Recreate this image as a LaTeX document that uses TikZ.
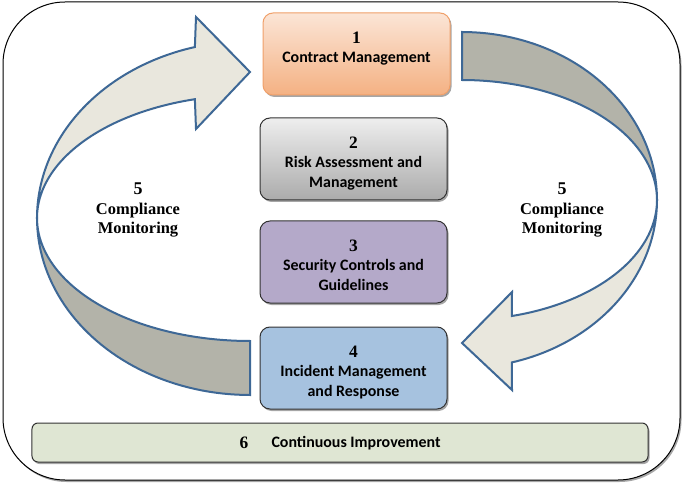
\documentclass[tikz,border=0pt]{standalone}
\usepackage{fontspec}
\setmainfont{Carlito}
\newfontfamily\numfont{Liberation Serif}
\usetikzlibrary{shadows}
\definecolor{ribline}{HTML}{3E6896}
\definecolor{riblight}{HTML}{E9E7DD}
\definecolor{ribdark}{HTML}{B3B3A9}
\definecolor{orTop}{HTML}{FBE5D6}
\definecolor{orBot}{HTML}{F4B183}
\definecolor{orLine}{HTML}{F0A06A}
\definecolor{grTop}{HTML}{EEEEEE}
\definecolor{grBot}{HTML}{ABABAB}
\definecolor{purp}{HTML}{B4A9C9}
\definecolor{blu}{HTML}{A6C2DF}
\definecolor{grn}{HTML}{DFE6D3}
\newcommand{\boxtext}[2]{\raisebox{#1}[\height][\depth]{\begin{tabular}{@{}c@{}}#2\end{tabular}}}
\newcommand{\bnum}[1]{{\numfont\fontsize{17.5}{19.5}\selectfont #1}}
\begin{document}
\begin{tikzpicture}[x=1bp,y=-1bp,
  shad/.style={drop shadow={shadow xshift=1.5bp,shadow yshift=-2bp,opacity=0.35,fill=black}},
  stepbox/.style={draw=black!80,line width=1bp,rounded corners=10bp,minimum width=187bp,minimum height=82bp,
    shad,font=\bfseries\fontsize{16}{19.5}\selectfont},
  ribbon/.style={draw=ribline,line width=2bp,line join=miter},
  lbl/.style={align=center,font=\numfont\bfseries\fontsize{16.5}{20}\selectfont}]
\useasboundingbox (0,0) rectangle (685,487);
% outer frame
\draw[line width=1bp,rounded corners=62bp,fill=white,shad] (3,2) rectangle (680,480);
% left ribbon
\path[ribbon,fill=ribdark] plot[domain=180:90,samples=50] ({250+213*cos(\x)},{218+123*sin(\x)})
  -- plot[domain=90:180,samples=50] ({250+213*cos(\x)},{218+177*sin(\x)}) -- cycle;
\path[ribbon,fill=riblight] (196,17) -- (250,72) -- (196,129)
  -- plot[domain=255:180,samples=50] ({250+213*cos(\x)},{218+123*sin(\x)})
  -- plot[domain=180:255,samples=50] ({250+213*cos(\x)},{218+177*sin(\x)}) -- cycle;
% right ribbon
\path[ribbon,fill=ribdark] plot[domain=270:360,samples=50] ({462+195*cos(\x)},{200+168*sin(\x)})
  -- plot[domain=360:270,samples=50] ({462+195*cos(\x)},{200+120*sin(\x)}) -- cycle;
\path[ribbon,fill=riblight] (512,292) -- (462,343) -- (512,390)
  -- plot[domain=75.2:0,samples=50] ({462+195*cos(\x)},{200+168*sin(\x)})
  -- plot[domain=0:75.2,samples=50] ({462+195*cos(\x)},{200+120*sin(\x)}) -- cycle;
% boxes
\node[stepbox,draw=orLine,top color=orTop,bottom color=orBot] (b1) at (356.5,54)
  {\boxtext{5bp}{\bnum{1}\\Contract Management}};
\node[stepbox,top color=grTop,bottom color=grBot] (b2) at (353.5,159)
  {\boxtext{-5bp}{\bnum{2}\\Risk Assessment and\\Management}};
\node[stepbox,fill=purp] (b3) at (353.5,262)
  {\boxtext{-5bp}{\bnum{3}\\Security Controls and\\Guidelines}};
\node[stepbox,fill=blu] (b4) at (353.5,368)
  {\boxtext{-5bp}{\bnum{4}\\Incident Management\\and Response}};
% continuous improvement
\node[draw=black!80,line width=1bp,rounded corners=6bp,fill=grn,shad,minimum width=616bp,minimum height=39bp] (b6) at (340,442.5) {};
\node[font=\numfont\bfseries\fontsize{17.5}{19}\selectfont] (n6) at (244,443) {6};
\node[anchor=west,font=\bfseries\fontsize{16}{19}\selectfont] (ci) at (268,443) {Continuous Improvement};
% compliance monitoring labels
\node[lbl] (cmL) at (138,210) {{\fontsize{18}{20}\selectfont 5}\\Compliance\\Monitoring};
\node[lbl] (cmR) at (562,210) {{\fontsize{18}{20}\selectfont 5}\\Compliance\\Monitoring};
\end{tikzpicture}
\end{document}
